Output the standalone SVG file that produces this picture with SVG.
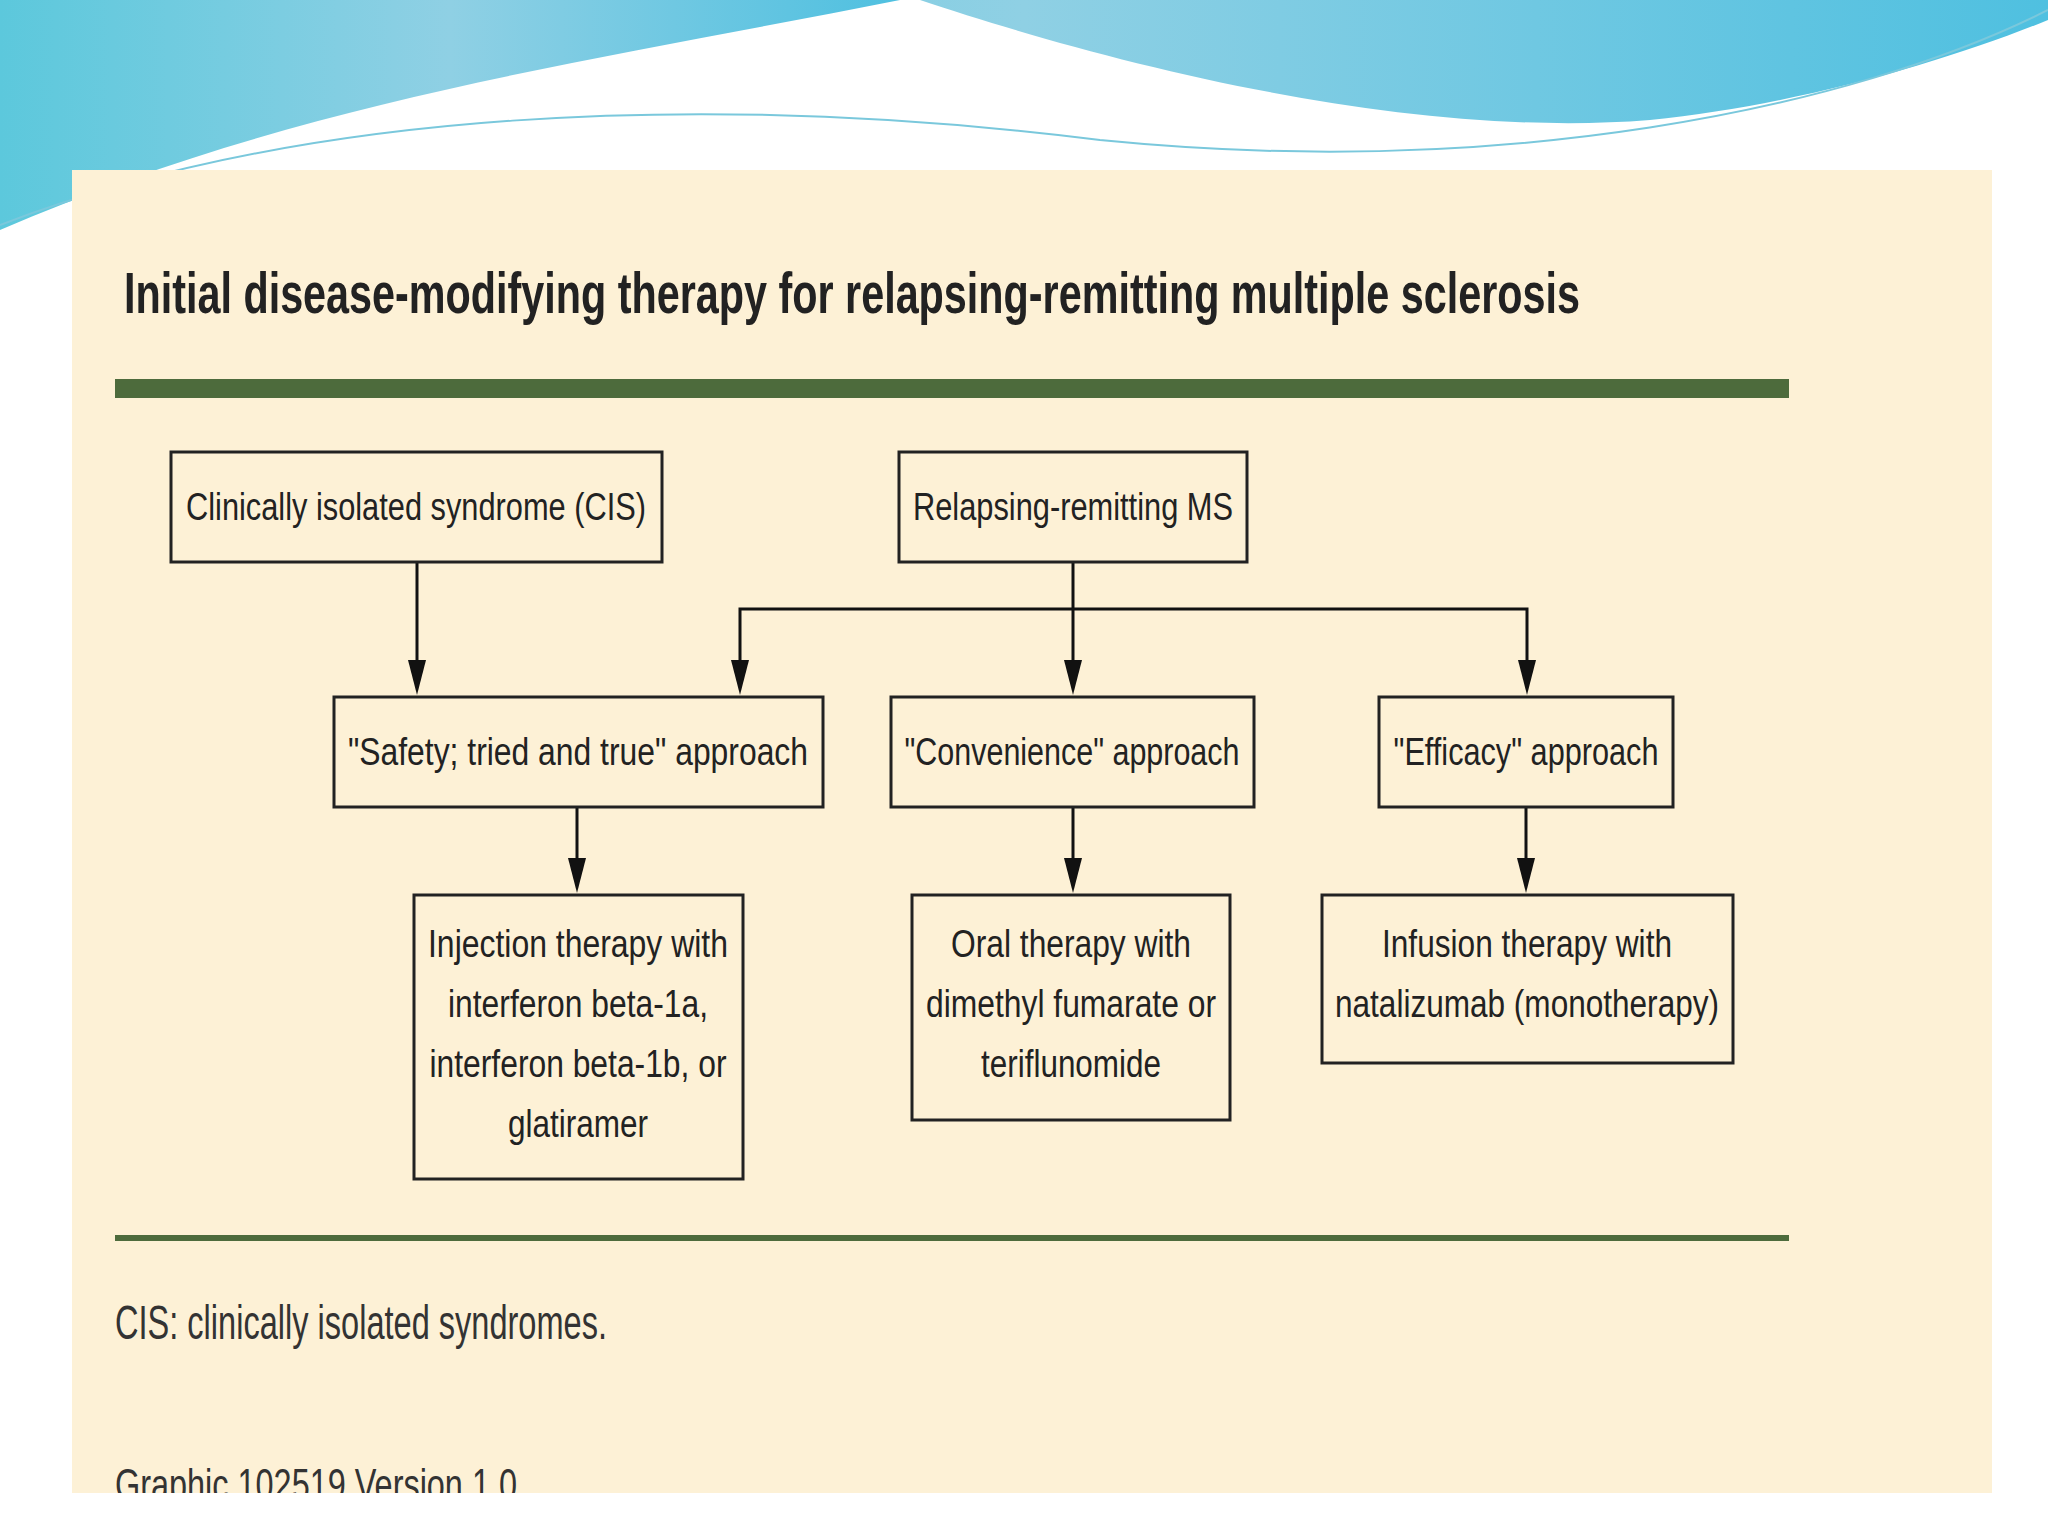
<svg xmlns="http://www.w3.org/2000/svg" width="2048" height="1536" viewBox="0 0 2048 1536">
<defs>
<linearGradient id="sky" x1="0" y1="0" x2="1" y2="0"><stop offset="0" stop-color="#5cc8dc"/><stop offset="0.5" stop-color="#8fd0e4"/><stop offset="1" stop-color="#4fc0e0"/></linearGradient>
<clipPath id="pc"><rect x="72" y="170" width="1920" height="1323"/></clipPath>
<style>
.box{fill:none;stroke:#222;stroke-width:3}
.t{font-family:"Liberation Sans",Arial,sans-serif;font-size:38px;fill:#222;text-anchor:middle}
.c{stroke:#111;stroke-width:3;fill:none}
.ah{fill:#111}
</style>
</defs>
<rect width="2048" height="1536" fill="#fff"/>
<path d="M0,0 H920 C1100,60 1400,140 1650,120 C1800,105 1950,60 2048,20 V0 Z" fill="url(#sky)"/>
<path d="M0,0 H900 C600,60 300,100 0,230 Z" fill="url(#sky)"/>
<path d="M0,225 C300,110 700,90 1100,140 C1500,180 1850,110 2048,10" stroke="#7ac8dc" stroke-width="2" fill="none"/>
<rect x="72" y="170" width="1920" height="1323" fill="#fdf1d6"/>
<g clip-path="url(#pc)">
<text x="124" y="313" font-family="Liberation Sans,Arial,sans-serif" font-size="58" font-weight="bold" fill="#222" textLength="1456" lengthAdjust="spacingAndGlyphs">Initial disease-modifying therapy for relapsing-remitting multiple sclerosis</text>
<rect x="115" y="379" width="1674" height="19" fill="#4d6b3c"/>
<rect x="115" y="1235" width="1674" height="6" fill="#4d6b3c"/>
<text x="115" y="1339" font-family="Liberation Sans,Arial,sans-serif" font-size="48" fill="#333" textLength="492" lengthAdjust="spacingAndGlyphs">CIS: clinically isolated syndromes.</text>
<text x="115" y="1500" font-family="Liberation Sans,Arial,sans-serif" font-size="44" fill="#333" textLength="402" lengthAdjust="spacingAndGlyphs">Graphic 102519 Version 1.0</text>
</g>
<g id="connectors">
<path class="c" d="M417,562 V670"/>
<path class="c" d="M1073,562 V670"/>
<path class="c" d="M740,670 V609 H1527 V670"/>
<path class="c" d="M577,807 V868"/>
<path class="c" d="M1073,807 V868"/>
<path class="c" d="M1526,807 V868"/>
<polygon class="ah" points="408,660 426,660 417,695"/>
<polygon class="ah" points="1064,660 1082,660 1073,695"/>
<polygon class="ah" points="731,660 749,660 740,695"/>
<polygon class="ah" points="1518,660 1536,660 1527,695"/>
<polygon class="ah" points="568,858 586,858 577,893"/>
<polygon class="ah" points="1064,858 1082,858 1073,893"/>
<polygon class="ah" points="1517,858 1535,858 1526,893"/>
</g>
<g id="cis"><rect class="box" x="171" y="452" width="491" height="110"/><text class="t" x="416" y="520" textLength="460" lengthAdjust="spacingAndGlyphs">Clinically isolated syndrome (CIS)</text></g>
<g id="rrms"><rect class="box" x="899" y="452" width="348" height="110"/><text class="t" x="1073" y="520" textLength="320" lengthAdjust="spacingAndGlyphs">Relapsing-remitting MS</text></g>
<g id="safety"><rect class="box" x="334" y="697" width="489" height="110"/><text class="t" x="578" y="765" textLength="460" lengthAdjust="spacingAndGlyphs">"Safety; tried and true" approach</text></g>
<g id="convenience"><rect class="box" x="891" y="697" width="363" height="110"/><text class="t" x="1072" y="765" textLength="335" lengthAdjust="spacingAndGlyphs">"Convenience" approach</text></g>
<g id="efficacy"><rect class="box" x="1379" y="697" width="294" height="110"/><text class="t" x="1526" y="765" textLength="265" lengthAdjust="spacingAndGlyphs">"Efficacy" approach</text></g>
<g id="injection"><rect class="box" x="414" y="895" width="329" height="284"/>
<text class="t" x="578" y="957" textLength="300" lengthAdjust="spacingAndGlyphs">Injection therapy with</text>
<text class="t" x="578" y="1017" textLength="260" lengthAdjust="spacingAndGlyphs">interferon beta-1a,</text>
<text class="t" x="578" y="1077" textLength="297" lengthAdjust="spacingAndGlyphs">interferon beta-1b, or</text>
<text class="t" x="578" y="1137" textLength="140" lengthAdjust="spacingAndGlyphs">glatiramer</text></g>
<g id="oral"><rect class="box" x="912" y="895" width="318" height="225"/>
<text class="t" x="1071" y="957" textLength="240" lengthAdjust="spacingAndGlyphs">Oral therapy with</text>
<text class="t" x="1071" y="1017" textLength="290" lengthAdjust="spacingAndGlyphs">dimethyl fumarate or</text>
<text class="t" x="1071" y="1077" textLength="180" lengthAdjust="spacingAndGlyphs">teriflunomide</text></g>
<g id="infusion"><rect class="box" x="1322" y="895" width="411" height="168"/>
<text class="t" x="1527" y="957" textLength="290" lengthAdjust="spacingAndGlyphs">Infusion therapy with</text>
<text class="t" x="1527" y="1017" textLength="384" lengthAdjust="spacingAndGlyphs">natalizumab (monotherapy)</text></g>
</svg>
